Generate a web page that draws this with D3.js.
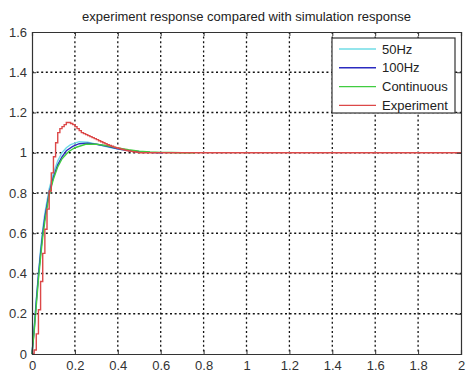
<!DOCTYPE html>
<html>
<head>
<meta charset="utf-8">
<script src="https://cdn.jsdelivr.net/npm/d3@7"></script>
<style>
  body { margin: 0; background: #fff; }
  svg text { font-family: "Liberation Sans", Arial, sans-serif; fill: #222; }
</style>
</head>
<body>
<script>
// Step responses
const redT = [0, 0.01, 0.02, 0.03, 0.04, 0.05, 0.06, 0.07, 0.08, 0.09, 0.10, 0.11, 0.12, 0.13, 0.14,
  0.15, 0.16, 0.17, 0.18, 0.19, 0.20, 0.21, 0.22, 0.23, 0.24, 0.25, 0.26, 0.27, 0.28, 0.29, 0.30,
  0.31, 0.32, 0.33, 0.34, 0.35, 0.36, 0.37, 0.38, 0.39, 0.40, 0.41, 0.42, 0.43, 0.44, 0.45, 0.46,
  0.47, 0.48, 0.49, 0.50, 2.0];
const redY = [0, 0.02, 0.1, 0.22, 0.36, 0.5, 0.62, 0.72, 0.81, 0.9, 0.98, 1.05, 1.1, 1.12, 1.13,
  1.14, 1.15, 1.15, 1.145, 1.14, 1.13, 1.12, 1.11, 1.1, 1.095, 1.09, 1.085, 1.08, 1.075, 1.07, 1.065,
  1.06, 1.055, 1.05, 1.045, 1.04, 1.036, 1.032, 1.028, 1.025, 1.022, 1.019, 1.016, 1.013, 1.011, 1.009, 1.007,
  1.005, 1.004, 1.002, 1.0, 1.0];

const contT = [0, 0.01, 0.02, 0.03, 0.04, 0.05, 0.06, 0.08, 0.10, 0.12, 0.14, 0.17, 0.20, 0.25, 0.30,
  0.35, 0.40, 0.45, 0.50, 0.55, 0.60, 0.65, 0.70, 0.76];
const contY = [0, 0.11, 0.24, 0.37, 0.48, 0.58, 0.66, 0.79, 0.87, 0.93, 0.97, 1.005, 1.025, 1.042, 1.043,
  1.035, 1.024, 1.015, 1.008, 1.004, 1.002, 1.001, 1.0, 1.0];

const hz50T = [0, 0.01, 0.02, 0.03, 0.04, 0.05, 0.06, 0.08, 0.10, 0.12, 0.14, 0.16, 0.18, 0.22, 0.26,
  0.30, 0.35, 0.40, 0.45, 0.50, 0.55, 0.61];
const hz50Y = [0, 0.13, 0.27, 0.4, 0.52, 0.62, 0.7, 0.82, 0.9, 0.96, 1.0, 1.025, 1.04, 1.055, 1.052,
  1.043, 1.03, 1.018, 1.01, 1.005, 1.002, 1.0];

const hz100T = [0, 0.01, 0.02, 0.03, 0.04, 0.05, 0.06, 0.08, 0.10, 0.12, 0.14, 0.16, 0.19, 0.22, 0.26,
  0.30, 0.35, 0.40, 0.45, 0.50, 0.55, 0.61];
const hz100Y = [0, 0.12, 0.26, 0.39, 0.5, 0.6, 0.68, 0.8, 0.88, 0.94, 0.98, 1.01, 1.032, 1.045, 1.048,
  1.042, 1.032, 1.02, 1.011, 1.005, 1.002, 1.0];

const xTicks = [0, 0.2, 0.4, 0.6, 0.8, 1, 1.2, 1.4, 1.6, 1.8, 2];
const yTicks = [0, 0.2, 0.4, 0.6, 0.8, 1, 1.2, 1.4, 1.6];
const legendNames = ['50Hz', '100Hz', 'Continuous', 'Experiment'];
const legendColors = ['#70dce6', '#2b2bc0', '#40cc40', '#dc4848'];

const W = 474, H = 387;
const margin = { top: 32, right: 13, bottom: 33, left: 32 };
const w = W - margin.left - margin.right;
const h = H - margin.top - margin.bottom;

const svg = d3.select('body').append('svg')
  .attr('width', W)
  .attr('height', H);

const g = svg.append('g').attr('transform', `translate(${margin.left},${margin.top})`);

const x = d3.scaleLinear().domain([0, 2]).range([0, w]);
const y = d3.scaleLinear().domain([0, 1.6]).range([h, 0]);

// grid
g.selectAll('line.vgrid')
  .data(xTicks.slice(1, -1))
  .enter()
  .append('line')
  .attr('x1', (d) => x(d)).attr('x2', (d) => x(d))
  .attr('y1', 0).attr('y2', h)
  .style('stroke', '#111')
  .style('stroke-width', 1.3)
  .style('stroke-dasharray', '2,2.6');
g.selectAll('line.hgrid')
  .data(yTicks.slice(1, -1))
  .enter()
  .append('line')
  .attr('x1', 0).attr('x2', w)
  .attr('y1', (d) => y(d)).attr('y2', (d) => y(d))
  .style('stroke', '#111')
  .style('stroke-width', 1.3)
  .style('stroke-dasharray', '2,2.6');

// lines
const series = [
  { t: hz50T, v: hz50Y, c: legendColors[0], curve: d3.curveLinear },
  { t: hz100T, v: hz100Y, c: legendColors[1], curve: d3.curveLinear },
  { t: contT, v: contY, c: legendColors[2], curve: d3.curveLinear },
  { t: redT, v: redY, c: legendColors[3], curve: d3.curveStepAfter },
];
const plot = g.append('g');
series.forEach((s) => {
  const line = d3.line()
    .x((d, i) => x(s.t[i]))
    .y((d) => y(d))
    .curve(s.curve);
  plot.append('path')
    .attr('d', line(s.v))
    .style('fill', 'none')
    .style('stroke', s.c)
    .style('stroke-width', 1.4);
});

// axes
const xAxis = d3.axisBottom(x).tickValues(xTicks).tickSize(-4).tickPadding(7)
  .tickFormat((d) => d3.format('~g')(d));
const yAxis = d3.axisLeft(y).tickValues(yTicks).tickSize(-4).tickPadding(5)
  .tickFormat((d) => d3.format('~g')(d));
g.append('g').attr('transform', `translate(0,${h})`).call(xAxis);
g.append('g').call(yAxis);
g.append('g')
  .call(d3.axisTop(x).tickValues(xTicks).tickSize(-4).tickFormat(''));
g.append('g').attr('transform', `translate(${w},0)`)
  .call(d3.axisRight(y).tickValues(yTicks).tickSize(-4).tickFormat(''));
g.selectAll('.domain').style('stroke', '#333').style('stroke-width', 1.2);
g.selectAll('.tick line').style('stroke', '#333');
g.selectAll('.tick text').style('font-size', '13px').style('fill', '#333')
  .style('font-family', '"Liberation Sans", Arial, sans-serif');

// title
svg.append('text')
  .attr('x', margin.left + w / 2)
  .attr('y', 21)
  .attr('text-anchor', 'middle')
  .style('font-size', '13px')
  .text('experiment response compared with simulation response');

// legend
const lg = g.append('g').attr('transform', `translate(${300},${6})`);
lg.append('rect')
  .attr('width', 123).attr('height', 75)
  .style('fill', '#fff')
  .style('stroke', '#333')
  .style('stroke-width', 1.2);
legendNames.forEach((name, i) => {
  const yy = 11 + i * 18.8;
  lg.append('line')
    .attr('x1', 7).attr('x2', 44)
    .attr('y1', yy).attr('y2', yy)
    .style('stroke', legendColors[i])
    .style('stroke-width', 1.4);
  lg.append('text')
    .attr('x', 50).attr('y', yy + 4.5)
    .style('font-size', '13px')
    .text(name);
});
</script>
</body>
</html>
